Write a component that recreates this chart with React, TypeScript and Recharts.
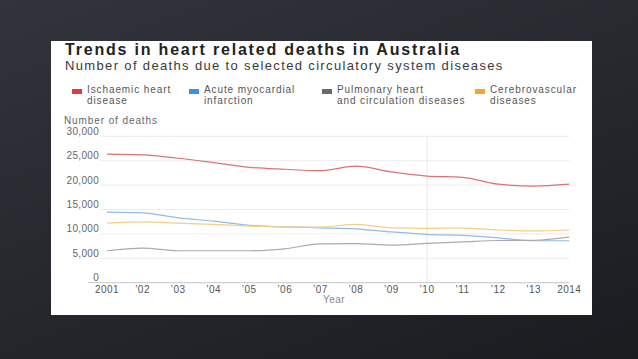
import React from 'react';
import { LineChart, Line, XAxis, YAxis, CartesianGrid, ReferenceLine } from 'recharts';

const years = ['2001', '’02', '’03', '’04', '’05', '’06', '’07', '’08', '’09', '’10', '’11', '’12', '’13', '2014'];

const ischaemic = [26350, 26200, 25500, 24600, 23650, 23250, 22950, 23900, 22700, 21850, 21600, 20200, 19800, 20200];
const acuteMyocardial = [14450, 14300, 13300, 12600, 11750, 11450, 11250, 11050, 10400, 9900, 9700, 9200, 8600, 8600];
const pulmonary = [6550, 7100, 6550, 6550, 6550, 6950, 7950, 8000, 7700, 8050, 8350, 8650, 8700, 9350];
const cerebrovascular = [12200, 12450, 12200, 11950, 11600, 11450, 11400, 11950, 11250, 11150, 11200, 10800, 10600, 10800];

const yTicks = [0, 5000, 10000, 15000, 20000, 25000, 30000];

const series = [
  { key: 'ischaemic', label: ['Ischaemic heart', 'disease'], swatch: '#e03a3a', line: '#dc7275', values: ischaemic },
  { key: 'acute', label: ['Acute myocardial', 'infarction'], swatch: '#3d8fe0', line: '#93bbe8', values: acuteMyocardial },
  { key: 'pulmonary', label: ['Pulmonary heart', 'and circulation diseases'], swatch: '#6a6a6a', line: '#ababab', values: pulmonary },
  { key: 'cerebro', label: ['Cerebrovascular', 'diseases'], swatch: '#f2a531', line: '#f2cf86', values: cerebrovascular },
];

// legend item positions (left of swatch)
const legendX = [72, 189, 322, 475];

const data = years.map((year, i) => {
  const row: Record<string, string | number> = { year };
  series.forEach(s => { row[s.key] = s.values[i]; });
  return row;
});

const fmt = (v: number) => v.toLocaleString('en-US');

const YTick = (props: any) => {
  const { x, y, payload } = props;
  return (
    <text x={x} y={y - 1.5} textAnchor="end" fontSize={10} fill="#666" letterSpacing={0.3}>
      {fmt(payload.value)}
    </text>
  );
};

const XTick = (props: any) => {
  const { x, y, payload } = props;
  return (
    <text x={x} y={y + 8.3} textAnchor="middle" fontSize={10} fill="#555" letterSpacing={0.5}>
      {payload.value}
    </text>
  );
};

const font = '"Liberation Sans", Arial, sans-serif';

export default function App() {
  return (
    <div
      style={{
        position: 'absolute', left: 0, top: 0, width: 638, height: 359, overflow: 'hidden',
        background: 'linear-gradient(160deg, #31343b 0%, #25272d 55%, #1b1c20 100%)', fontFamily: font,
      }}
    >
      <div style={{ position: 'absolute', left: 51, top: 41, width: 541, height: 274, background: '#fff' }} />

      <div style={{ position: 'absolute', left: 65, top: 42, fontSize: 16, lineHeight: '16px', fontWeight: 700, color: '#222', letterSpacing: 1.8, whiteSpace: 'nowrap' }}>
        Trends in heart related deaths in Australia
      </div>
      <div style={{ position: 'absolute', left: 65, top: 59, fontSize: 13, lineHeight: '13px', color: '#3a3a3a', letterSpacing: 1.35, whiteSpace: 'nowrap' }}>
        Number of deaths due to selected circulatory system diseases
      </div>

      {series.map((s, i) => (
        <div key={s.key} style={{ position: 'absolute', left: legendX[i], top: 85 }}>
          <div style={{ position: 'absolute', left: 0, top: 3.5, width: 10, height: 5, background: s.swatch }} />
          <div style={{ position: 'absolute', left: 15, top: 0, fontSize: 10, lineHeight: '10.5px', color: '#555', letterSpacing: 0.9, whiteSpace: 'nowrap' }}>
            {s.label[0]}
            <br />
            {s.label[1]}
          </div>
        </div>
      ))}

      <div style={{ position: 'absolute', left: 64, top: 116.2, fontSize: 10, lineHeight: '10px', color: '#666', letterSpacing: 0.9, whiteSpace: 'nowrap' }}>
        Number of deaths
      </div>
      <div style={{ position: 'absolute', left: 88, top: 282, width: 12, height: 1, background: '#ccc' }} />
      <div style={{ position: 'absolute', left: 322, top: 295, width: 24, textAlign: 'center', fontSize: 10, lineHeight: '10px', color: '#888', letterSpacing: 0.5 }}>
        Year
      </div>

      <div style={{ position: 'absolute', left: 0, top: 0 }}>
        <LineChart width={638} height={359} data={data} margin={{ top: 136.3, right: 68.7, bottom: 56.3, left: 60 }}>
          <CartesianGrid vertical={false} stroke="#ececec" strokeWidth={1} />
          <XAxis
            dataKey="year"
            type="category"
            height={20}
            padding={{ left: 7, right: 0 }}
            axisLine={{ stroke: '#cccccc' }}
            tickLine={false}
            tickSize={0}
            tick={<XTick />}
            interval={0}
          />
          <YAxis
            width={40}
            domain={[0, 30000]}
            ticks={yTicks}
            interval={0}
            axisLine={false}
            tickLine={false}
            tickSize={0}
            tickMargin={1}
            tick={<YTick />}
          />
          <ReferenceLine x="’10" stroke="#e8e8e8" strokeWidth={1} />
          {series.map(s => (
            <Line
              key={s.key}
              type="monotone"
              dataKey={s.key}
              stroke={s.line}
              strokeWidth={1.2}
              dot={false}
              isAnimationActive={false}
            />
          ))}
        </LineChart>
      </div>
    </div>
  );
}
